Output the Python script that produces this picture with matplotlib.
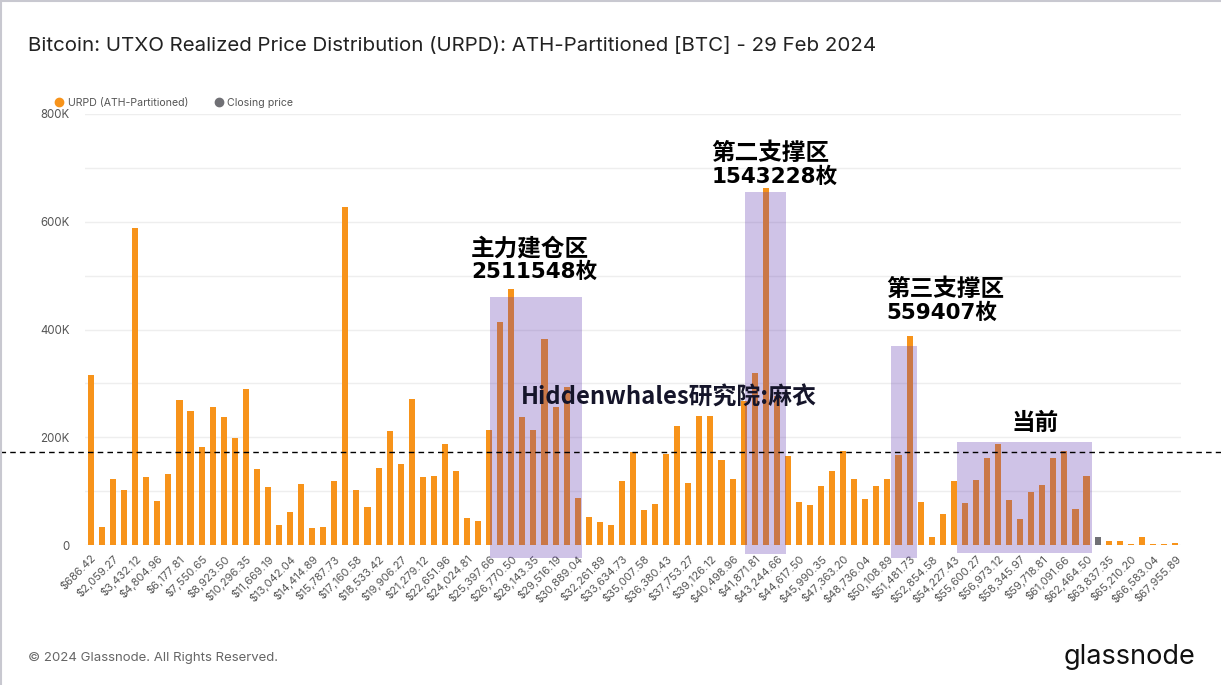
import numpy as np
import matplotlib.pyplot as plt
from matplotlib.lines import Line2D
from matplotlib.patches import Rectangle
from matplotlib.transforms import blended_transform_factory

# URPD por rango de precio (miles de BTC), 99 barras
urpd_k = [316, 33, 123, 102, 588, 126, 82, 131, 269, 248,
          181, 256, 237, 198, 290, 141, 107, 38, 61, 114,
          31, 33, 118, 628, 102, 71, 142, 211, 150, 271,
          126, 129, 188, 137, 51, 45, 214, 414, 475, 237,
          213, 382, 257, 294, 88, 52, 43, 37, 118, 173,
          65, 77, 169, 220, 116, 240, 240, 158, 122, 268,
          320, 662, 276, 165, 80, 75, 109, 137, 175, 122,
          86, 109, 122, 167, 388, 80, 15, 58, 118, 78,
          120, 162, 188, 84, 48, 99, 111, 162, 175, 67,
          129, 14, 7, 7, 2, 14, 2, 2, 3]
closing_idx = 91
ref_level_k = 172.6

price_labels = ["$686.42", "$2,059.27", "$3,432.12", "$4,804.96", "$6,177.81",
                "$7,550.65", "$8,923.50", "$10,296.35", "$11,669.19", "$13,042.04",
                "$14,414.89", "$15,787.73", "$17,160.58", "$18,533.42", "$19,906.27",
                "$21,279.12", "$22,651.96", "$24,024.81", "$25,397.66", "$26,770.50",
                "$28,143.35", "$29,516.19", "$30,889.04", "$32,261.89", "$33,634.73",
                "$35,007.58", "$36,380.43", "$37,753.27", "$39,126.12", "$40,498.96",
                "$41,871.81", "$43,244.66", "$44,617.50", "$45,990.35", "$47,363.20",
                "$48,736.04", "$50,108.89", "$51,481.73", "$52,854.58", "$54,227.43",
                "$55,600.27", "$56,973.12", "$58,345.97", "$59,718.81", "$61,091.66",
                "$62,464.50", "$63,837.35", "$65,210.20", "$66,583.04", "$67,955.89"]

ORANGE = "#F7931A"
GRAY = "#707075"
TXT = "#555555"

vals = np.array(urpd_k) * 1000
x = np.arange(len(vals))
colors = [GRAY if i == closing_idx else ORANGE for i in x]

fig = plt.figure(figsize=(12.21, 6.85), dpi=100)
ax = fig.add_axes([85 / 1221, 1 - 545 / 685, 1096 / 1221, 431 / 685])

ax.bar(x, vals, width=0.55, color=colors, zorder=2)

ax.set_xlim(-0.54, 98.54)
ax.set_ylim(0, 800000)
ax.set_yticks(np.arange(0, 800001, 200000))
ax.set_yticklabels(["0", "200K", "400K", "600K", "800K"])
ax.set_yticks(np.arange(0, 800001, 100000), minor=True)
ax.grid(axis="y", which="both", color="#eeeeee", linewidth=1, zorder=0)
ax.tick_params(axis="y", which="both", length=0, pad=11, labelsize=8.3, labelcolor=TXT)
ax.set_xticks(x[::2])
ax.set_xticklabels(price_labels, rotation=45, ha="right", va="top",
                   rotation_mode="anchor", fontsize=8, color=TXT)
ax.tick_params(axis="x", length=0, pad=6)
for s in ax.spines.values():
    s.set_visible(False)
for lbl in ax.get_xticklabels() + ax.get_yticklabels():
    lbl.set_family("Inter")

# linea punteada a todo el ancho
tr = blended_transform_factory(fig.transFigure, ax.transData)
ax.plot([0, 1], [ref_level_k * 1000] * 2, transform=tr, color="black",
        linewidth=1, dashes=(4, 3), clip_on=False, zorder=4)

# zonas sombreadas
zonas = [(36.1, 44.4, -23600, 461000),
         (59.1, 62.85, -17000, 655000),
         (72.3, 74.65, -23600, 369000),
         (78.3, 90.5, -14000, 191000)]
for x0, x1, y0, y1 in zonas:
    ax.add_patch(Rectangle((x0, y0), x1 - x0, y1 - y0, facecolor=(98/255, 58/255, 178/255),
                           alpha=0.3, edgecolor="none", clip_on=False, zorder=3))

cjk = ["Noto Sans CJK SC", "DejaVu Sans"]
num = ["DejaVu Sans", "Noto Sans CJK SC"]
ax.text(34.36, 551000, "主力建仓区", family=cjk, fontsize=17, weight="bold", va="center", zorder=5)
ax.text(34.36, 507000, "2511548枚", family=num, fontsize=15.5, weight="bold", va="center", zorder=5)
ax.text(56.06, 728000, "第二支撑区", family=cjk, fontsize=17, weight="bold", va="center", zorder=5)
ax.text(56.06, 684000, "1543228枚", family=num, fontsize=15.5, weight="bold", va="center", zorder=5)
ax.text(71.88, 475000, "第三支撑区", family=cjk, fontsize=17, weight="bold", va="center", zorder=5)
ax.text(71.88, 431000, "559407枚", family=num, fontsize=15.5, weight="bold", va="center", zorder=5)
ax.text(38.88, 273000, "Hiddenwhales研究院:麻衣", family=cjk, fontsize=17.2, weight="bold",
        color="#15152a", va="center", zorder=5)
ax.text(83.2, 226000, "当前", family=cjk, fontsize=17, weight="bold", va="center", zorder=5)

# titulo, leyenda, pie
fig.text(28 / 1221, 1 - 46 / 685, "Bitcoin: UTXO Realized Price Distribution (URPD): ATH-Partitioned [BTC] - 29 Feb 2024",
         family="Inter", fontsize=14.75, color="#222222", va="center")
handles = [Line2D([], [], marker="o", linestyle="none", color=ORANGE, markersize=6,
                  label="URPD (ATH-Partitioned)"),
           Line2D([], [], marker="o", linestyle="none", color=GRAY, markersize=6,
                  label="Closing price")]
leg = fig.legend(handles=handles, loc="center left", bbox_to_anchor=(55 / 1221, 1 - 103 / 685),
                 ncol=2, frameon=False, fontsize=7.6, handlelength=0.8, handletextpad=0.4,
                 columnspacing=2.5, borderpad=0, borderaxespad=0)
for t in leg.get_texts():
    t.set_color(TXT)
    t.set_family("Inter")
fig.text(28 / 1221, 1 - 658 / 685, "© 2024 Glassnode. All Rights Reserved.", family="Inter",
         fontsize=9.5, color="#666666", va="center")
fig.text(1195 / 1221, 1 - 657 / 685, "glassnode", family="Inter", fontsize=19.5, color="#111111",
         va="center", ha="right")

# marco
fig.add_artist(Line2D([0.0008, 0.0008], [0, 1], color="#c8c8d0", linewidth=1.5))
fig.add_artist(Line2D([0, 1], [0.9985, 0.9985], color="#c8c8d0", linewidth=1.5))

fig.savefig("out.png", dpi=100)
